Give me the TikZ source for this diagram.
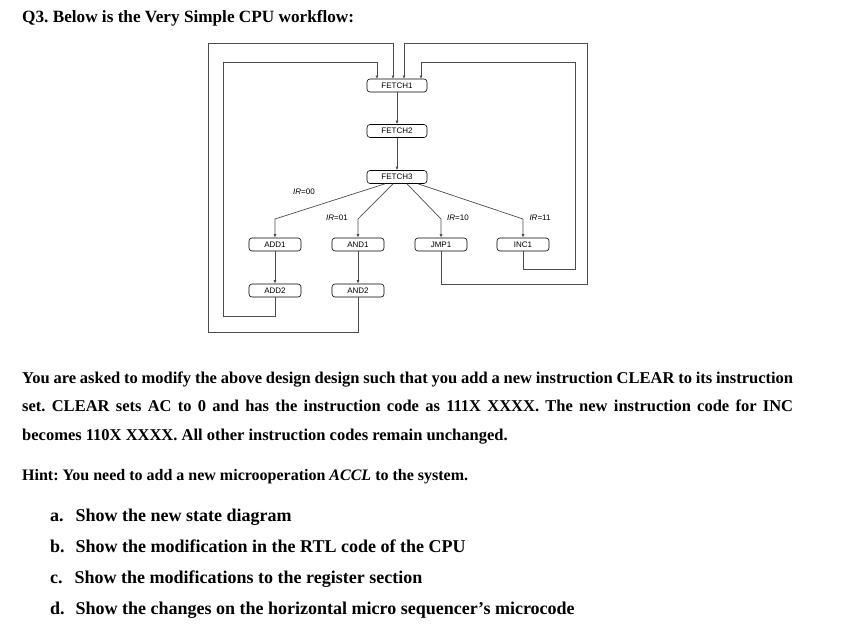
\documentclass[tikz,border=0pt]{standalone}
\usepackage{fontspec}
\setmainfont{Liberation Serif}
\newfontfamily\diag{Liberation Sans}
\usetikzlibrary{arrows.meta}
\frenchspacing
\begin{document}
\begin{tikzpicture}[x=1pt,y=-1pt,
  st/.style={draw,rounded corners=3pt,minimum width=52pt,minimum height=13pt,inner sep=0pt,font=\diag\fontsize{8}{9}\selectfont,line width=0.6pt},
  ln/.style={draw=black!70,line width=0.7pt},
  ar/.style={ln,-{Latex[length=3.5pt,width=3pt]}},
  lb/.style={font=\diag\fontsize{8}{9}\selectfont,inner sep=1pt},
  tx/.style={anchor=base west,inner sep=0pt,font=\bfseries\fontsize{16.5}{18}\selectfont},
  it/.style={tx,font=\bfseries\fontsize{18}{20}\selectfont}]
\useasboundingbox (0,0) rectangle (848,632);
\node[st,minimum width=60pt] (f1) at (397,85.5) {FETCH1};
\node[st,minimum width=60pt] (f2) at (397,131) {FETCH2};
\node[st,minimum width=60pt] (f3) at (397,177) {FETCH3};
\node[st] (add1) at (275,244.5) {ADD1};
\node[st] (and1) at (358,244.5) {AND1};
\node[st] (jmp1) at (441,244.5) {JMP1};
\node[st] (inc1) at (523,244.5) {INC1};
\node[st] (add2) at (275,290.5) {ADD2};
\node[st] (and2) at (358,290.5) {AND2};
\draw[ar] (f1) -- (f2);
\draw[ar] (f2) -- (f3);
\draw[ar] (add1) -- (add2);
\draw[ar] (and1) -- (and2);
\draw[ar] ([xshift=-12pt]f3.south) -- (275,219) -- (add1.north);
\draw[ar] ([xshift=-4pt]f3.south) -- (358,219) -- (and1.north);
\draw[ar] ([xshift=10pt]f3.south) -- (441,219) -- (jmp1.north);
\draw[ar] ([xshift=21pt]f3.south) -- (523,219) -- (inc1.north);
\node[lb] at (304,192) {\itshape IR\upshape=00};
\node[lb] at (337,218) {\itshape IR\upshape=01};
\node[lb] at (458,218) {\itshape IR\upshape=10};
\node[lb] at (540,218) {\itshape IR\upshape=11};
\coordinate (a) at (377,79); \coordinate (b) at (393,79);
\coordinate (c) at (404,79); \coordinate (d) at (421,79);
\draw[ar] (add2.south) -- (275,316) -- (223,316) -- (223,62) -- (377,62) -- (a);
\draw[ar] (and2.south) -- (358,332) -- (208,332) -- (208,43) -- (393,43) -- (b);
\draw[ar] (jmp1.south) -- (441,284) -- (587,284) -- (587,43) -- (404,43) -- (c);
\draw[ar] (inc1.south) -- (523,269) -- (575,269) -- (575,62) -- (421,62) -- (d);
\node[tx,font=\bfseries\fontsize{17.2}{19}\selectfont] (t0) at (22,22) {Q3. Below is the Very Simple CPU workflow:};
\node[tx] (p1) at (22,383) {\makebox[771pt][s]{You are asked to modify the above design design such that you add a new instruction CLEAR to its instruction}};
\node[tx] (p2) at (22,411) {\makebox[771pt][s]{set. CLEAR sets AC to 0 and has the instruction code as 111X XXXX. The new instruction code for INC}};
\node[tx] (p3) at (22,440) {becomes 110X XXXX. All other instruction codes remain unchanged.};
\node[tx,font=\bfseries\fontsize{16}{17}\selectfont] (h) at (22,480) {Hint: You need to add a new microoperation \textit{ACCL} to the system.};
\node[it] (la) at (50,521) {a.\hspace{12pt}Show the new state diagram};
\node[it] (lb2) at (50,552) {b.\hspace{11pt}Show the modification in the RTL code of the CPU};
\node[it] (lc) at (50,583) {c.\hspace{12pt}Show the modifications to the register section};
\node[it] (ld) at (50,614) {d.\hspace{11pt}Show the changes on the horizontal micro sequencer’s microcode};
\end{tikzpicture}
\end{document}
